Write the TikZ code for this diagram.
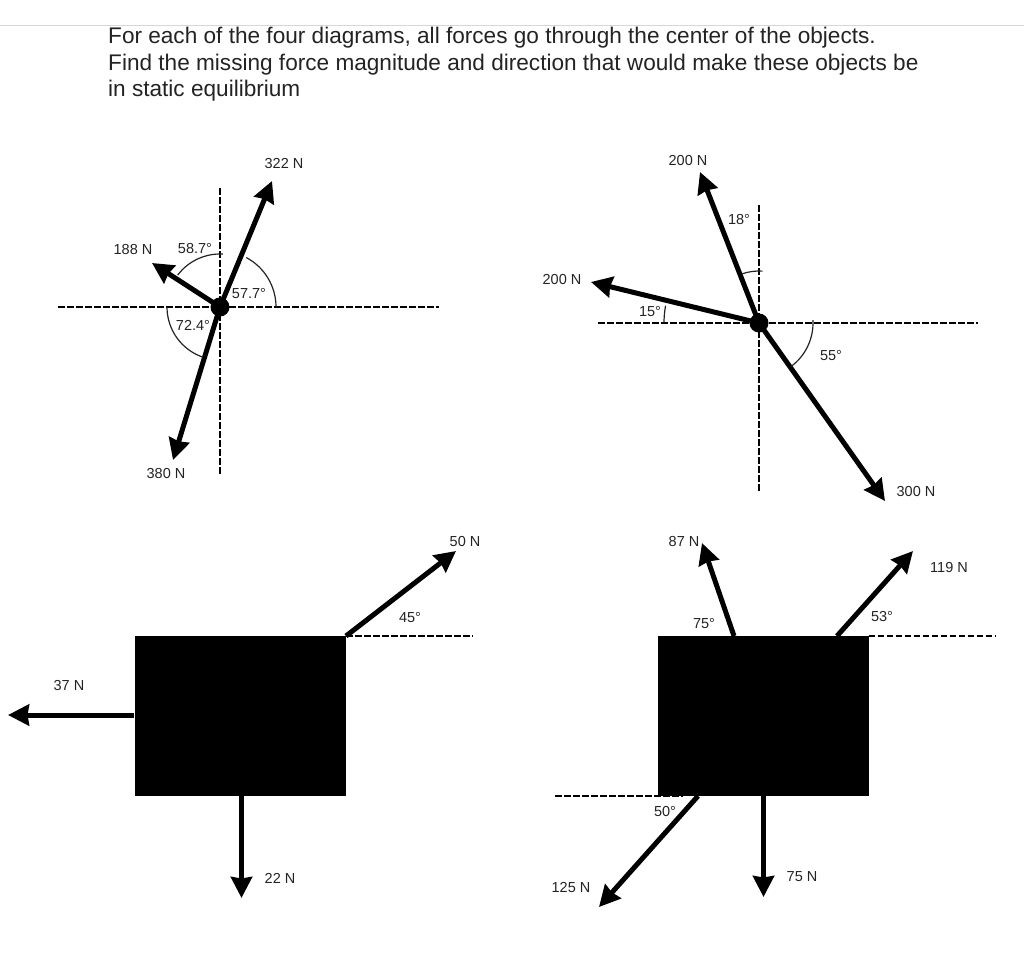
\documentclass[tikz,border=0pt]{standalone}
\usepackage{fontspec}
\setmainfont{Liberation Sans}
\usetikzlibrary{arrows.meta,positioning}
\definecolor{fgtext}{RGB}{35,35,35}
\definecolor{topline}{RGB}{215,215,215}
\tikzstyle{force} = [line width=5pt,-{Stealth[length=21pt,width=21pt,inset=1.5pt]},black]
\tikzstyle{axis} = [line width=2.7pt,dash pattern=on 6.5pt off 2.5pt,black]
\tikzstyle{anglearc} = [line width=1.2pt,color=fgtext]
\tikzstyle{hub} = [circle, fill=black, inner sep=0pt, minimum size=19pt]
\tikzstyle{block} = [rectangle, fill=black, inner sep=0pt, outer sep=0pt, minimum width=211pt, minimum height=160pt]
\tikzstyle{lbl} = [inner sep=0pt, text=fgtext, font=\fontsize{14.5}{17}\selectfont]
\tikzstyle{heading} = [inner sep=0pt, anchor=base west, text=fgtext, font=\fontsize{22.6}{26}\selectfont]
\begin{document}
\begin{tikzpicture}[x=1pt,y=-1pt]
    \useasboundingbox (0,0) rectangle (1024,954);

    % Heading
    \coordinate (ruleL) at (0,25);
    \coordinate (ruleR) at (1024,25);
    \draw[topline, line width=1pt] (ruleL) -- (ruleR);
    \node[heading] (line1) at (108,43) {For each of the four diagrams, all forces go through the center of the objects.};
    \node[heading] (line2) at (108,70) {Find the missing force magnitude and direction that would make these objects be};
    \node[heading] (line3) at (108,96) {in static equilibrium};

    % Axes, top left
    \coordinate (axAw) at (58,307);
    \coordinate (axAe) at (439,307);
    \coordinate (axAn) at (220,188);
    \coordinate (axAs) at (220,475);
    \draw[axis] (axAw) -- (axAe);
    \draw[axis] (axAn) -- (axAs);

    % Axes, top right
    \coordinate (axBw) at (598,323);
    \coordinate (axBe) at (978,323);
    \coordinate (axBn) at (759,205);
    \coordinate (axBs) at (759,491);
    \draw[axis] (axBw) -- (axBe);
    \draw[axis] (axBn) -- (axBs);

    % Nodes
    \node[hub] (hubA) at (220,307) {};
    \node[hub] (hubB) at (759,323) {};
    \node[block] (boxC) at (240.5,716) {};
    \node[block] (boxD) at (763,716) {};

    % Arrow tips
    \coordinate (tipA1) at (272,181);
    \coordinate (tipA2) at (152,263);
    \coordinate (tipA3) at (173,460);
    \coordinate (tipB1) at (700,172);
    \coordinate (tipB2) at (591,282);
    \coordinate (tipB3) at (885,501);
    \coordinate (tipC1) at (456,551);
    \coordinate (tipC2) at (8,715);
    \coordinate (tipC3) at (241.5,898);
    \coordinate (tipD1) at (702,543);
    \coordinate (tipD2) at (913,551);
    \coordinate (tipD3) at (599,907);
    \coordinate (tipD4) at (763.5,897);

    % Arrows
    \draw[force] (hubA.center) -- (tipA1);
    \draw[force] (hubA.center) -- (tipA2);
    \draw[force] (hubA.center) -- (tipA3);
    \draw[force] (hubB.center) -- (tipB1);
    \draw[force] (hubB.center) -- (tipB2);
    \draw[force] (hubB.center) -- (tipB3);
    \draw[force] (boxC.north east) -- (tipC1);
    \draw[force] ([xshift=-1pt,yshift=1pt]boxC.west) -- (tipC2);
    \draw[force] ([xshift=1pt]boxC.south) -- (tipC3);
    \draw[force] ([xshift=-29pt]boxD.north) -- (tipD1);
    \draw[force] ([xshift=74pt]boxD.north) -- (tipD2);
    \draw[force] ([xshift=-65pt]boxD.south) -- (tipD3);
    \draw[force] ([xshift=0.5pt]boxD.south) -- (tipD4);

    % Dashed reference lines at the boxes
    \coordinate (axCe) at (473,636);
    \coordinate (axDe) at (996,636);
    \coordinate (axDw) at (555,796);
    \coordinate (axDm) at (683,796);
    \draw[axis] (boxC.north east) -- (axCe);
    \draw[axis] (boxD.north east) -- (axDe);
    \draw[axis] (axDw) -- (axDm);

    % Angle arcs
    \draw[anglearc] (hubA.center) ++(0:56pt) arc[start angle=0,end angle=62,radius=56pt];
    \draw[anglearc] (hubA.center) ++(87:53pt) arc[start angle=87,end angle=143,radius=53pt];
    \draw[anglearc] (hubA.center) ++(180:53pt) arc[start angle=180,end angle=251,radius=53pt];
    \draw[anglearc] (hubB.center) ++(86:52pt) arc[start angle=86,end angle=109,radius=52pt];
    \draw[anglearc] (hubB.center) ++(180:95pt) arc[start angle=180,end angle=169.5,radius=95pt];
    \draw[anglearc] (hubB.center) ++(3:54pt) arc[start angle=3,end angle=-54,radius=54pt];

    % Labels
    \node[lbl] (lblA1) at (284,164) {322 N};
    \node[lbl] (lblA2) at (133,249) {188 N};
    \node[lbl] (lblA3) at (166,473) {380 N};
    \node[lbl] (angA1) at (249,293) {57.7°};
    \node[lbl] (angA2) at (195,248) {58.7°};
    \node[lbl] (angA3) at (193,325) {72.4°};
    \node[lbl] (lblB1) at (688,161) {200 N};
    \node[lbl] (lblB2) at (562,279) {200 N};
    \node[lbl] (lblB3) at (916,491) {300 N};
    \node[lbl] (angB1) at (739,220) {18°};
    \node[lbl] (angB2) at (650,311) {15°};
    \node[lbl] (angB3) at (831,355) {55°};
    \node[lbl] (lblC1) at (465,541) {50 N};
    \node[lbl] (lblC2) at (69,685) {37 N};
    \node[lbl] (lblC3) at (280,878) {22 N};
    \node[lbl] (angC1) at (410,617) {45°};
    \node[lbl] (lblD1) at (684,541) {87 N};
    \node[lbl] (lblD2) at (949,567) {119 N};
    \node[lbl] (lblD3) at (571,887) {125 N};
    \node[lbl] (lblD4) at (802,877) {75 N};
    \node[lbl] (angD1) at (704,623) {75°};
    \node[lbl] (angD2) at (882,616) {53°};
    \node[lbl] (angD3) at (665,811) {50°};
\end{tikzpicture}
\end{document}
